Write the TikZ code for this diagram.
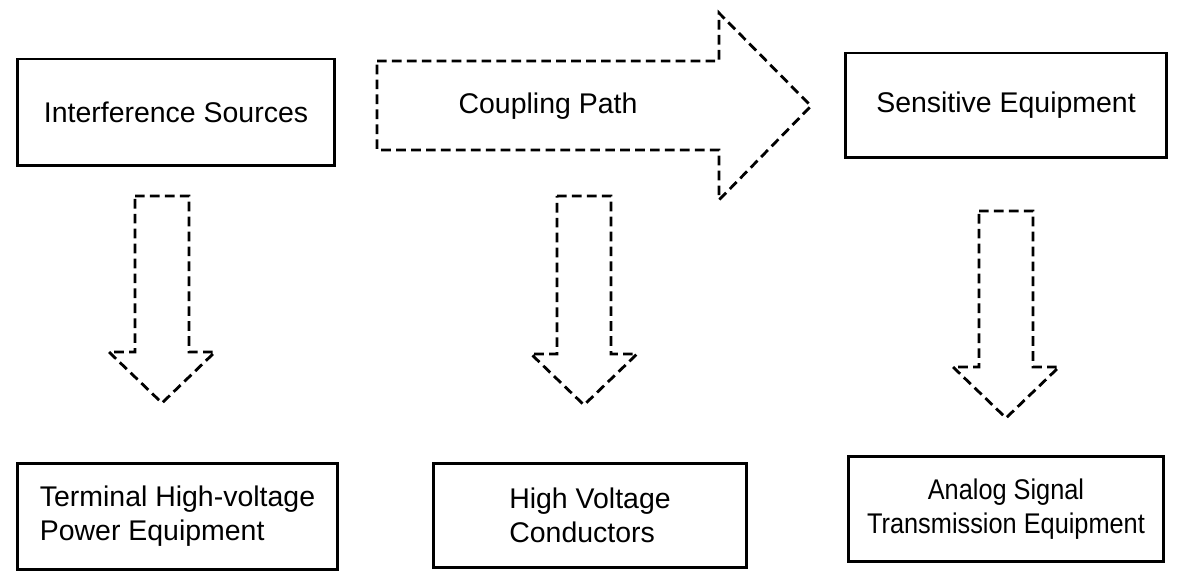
\documentclass[tikz,border=0pt]{standalone}
\usepackage{fontspec}
\setmainfont{Liberation Sans}
\newfontfamily\narrowsans[FakeStretch=0.89]{Liberation Sans}
\usetikzlibrary{calc}

\begin{document}
\begin{tikzpicture}[
    x=0.02cm, y=-0.02cm,
    box/.style={rectangle, draw, line width=1.7pt, inner sep=0pt, font=\fontsize{16.2}{19.3}\selectfont},
    blockarrow/.style={draw, line width=1.6pt, dash pattern=on 5.5pt off 3pt, line join=miter},
    label/.style={font=\fontsize{16.2}{19.3}\selectfont}
]
\useasboundingbox (0,0) rectangle (1182,580);

% Top row
\node[box, minimum width=6.36cm, minimum height=2.14cm] (sources) at (176,112.5) {Interference Sources};
\node[box, minimum width=6.44cm, minimum height=2.1cm] (sensitive) at (1006,105.5) {Sensitive Equipment};

% Coupling arrow
\draw[blockarrow] (377,61) -- (719,61) -- (719,13) -- (811,106) -- (719,200) -- (719,150) -- (377,150) -- cycle;
\node[label] (coupling) at (548,106) {Coupling Path};

% Bottom row
\node[box, align=left, minimum width=6.42cm, minimum height=2.14cm] (terminal) at (177.5,516.5) {Terminal High-voltage\\Power Equipment};
\node[box, align=left, minimum width=6.28cm, minimum height=2.1cm] (conductors) at (590,515.5) {High Voltage\\Conductors};
\node[box, align=center, minimum width=6.32cm, minimum height=2.12cm, font=\narrowsans\fontsize{16.2}{19.3}\selectfont] (analog) at (1006,509) {Analog Signal\\Transmission Equipment};

% Down arrows
\foreach \cx/\top/\tip in {162/196/403, 584/196/405, 1006/211/418} {
    \draw[blockarrow] (\cx-27,\top) -- (\cx+27,\top) -- (\cx+27,\tip-51) -- (\cx+53,\tip-51)
        -- (\cx,\tip) -- (\cx-53,\tip-51) -- (\cx-27,\tip-51) -- cycle;
}
\end{tikzpicture}
\end{document}
